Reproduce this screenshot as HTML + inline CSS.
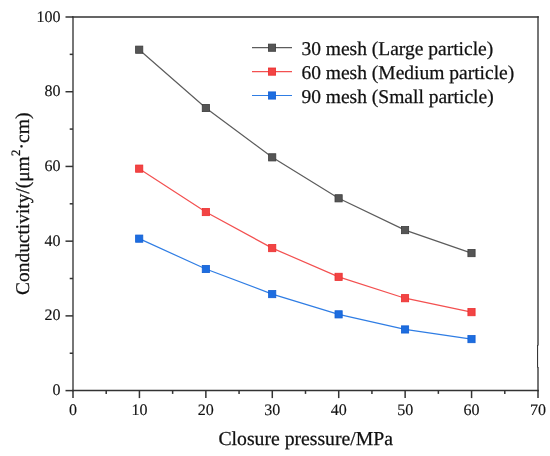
<!DOCTYPE html>
<html><head><meta charset="utf-8"><style>
html,body{margin:0;padding:0;background:#fff;}
svg{display:block;}
text{text-rendering:geometricPrecision;font-family:"Liberation Serif", serif;fill:#111;stroke:#111;stroke-width:0.25px;}
.tl{font-size:16px;stroke-width:0.15px;}
.lg{font-size:19.5px;}
.at{font-size:19.7px;}
</style></head><body>
<svg width="550" height="456" viewBox="0 0 550 456">
<defs><filter id="gs" x="0" y="0" width="550" height="456" filterUnits="userSpaceOnUse"><feColorMatrix type="saturate" values="0"/></filter></defs>
<rect width="550" height="456" fill="#fff"/>
<path d="M538.0 345.5 V16.25 M73.0 16.25 V391.35 M538.0 391.35 V367" fill="none" stroke="#4a4a4a" stroke-width="1.5"/>
<path d="M72.25 17.0 H538.75 M72.25 390.6 H538.75" fill="none" stroke="#333333" stroke-width="1.5"/>
<line x1="537.6" y1="345" x2="537.6" y2="367.5" stroke="#222" stroke-width="1"/>
<line x1="65.50" y1="390.60" x2="73.00" y2="390.60" stroke="#333333" stroke-width="1.5"/>
<line x1="69.70" y1="353.24" x2="73.00" y2="353.24" stroke="#333333" stroke-width="1.5"/>
<line x1="65.50" y1="315.88" x2="73.00" y2="315.88" stroke="#333333" stroke-width="1.5"/>
<line x1="69.70" y1="278.52" x2="73.00" y2="278.52" stroke="#333333" stroke-width="1.5"/>
<line x1="65.50" y1="241.16" x2="73.00" y2="241.16" stroke="#333333" stroke-width="1.5"/>
<line x1="69.70" y1="203.80" x2="73.00" y2="203.80" stroke="#333333" stroke-width="1.5"/>
<line x1="65.50" y1="166.44" x2="73.00" y2="166.44" stroke="#333333" stroke-width="1.5"/>
<line x1="69.70" y1="129.08" x2="73.00" y2="129.08" stroke="#333333" stroke-width="1.5"/>
<line x1="65.50" y1="91.72" x2="73.00" y2="91.72" stroke="#333333" stroke-width="1.5"/>
<line x1="69.70" y1="54.36" x2="73.00" y2="54.36" stroke="#333333" stroke-width="1.5"/>
<line x1="65.50" y1="17.00" x2="73.00" y2="17.00" stroke="#333333" stroke-width="1.5"/>
<line x1="73.00" y1="390.60" x2="73.00" y2="398.10" stroke="#333333" stroke-width="1.5"/>
<line x1="106.21" y1="390.60" x2="106.21" y2="393.90" stroke="#333333" stroke-width="1.5"/>
<line x1="139.43" y1="390.60" x2="139.43" y2="398.10" stroke="#333333" stroke-width="1.5"/>
<line x1="172.64" y1="390.60" x2="172.64" y2="393.90" stroke="#333333" stroke-width="1.5"/>
<line x1="205.86" y1="390.60" x2="205.86" y2="398.10" stroke="#333333" stroke-width="1.5"/>
<line x1="239.07" y1="390.60" x2="239.07" y2="393.90" stroke="#333333" stroke-width="1.5"/>
<line x1="272.29" y1="390.60" x2="272.29" y2="398.10" stroke="#333333" stroke-width="1.5"/>
<line x1="305.50" y1="390.60" x2="305.50" y2="393.90" stroke="#333333" stroke-width="1.5"/>
<line x1="338.71" y1="390.60" x2="338.71" y2="398.10" stroke="#333333" stroke-width="1.5"/>
<line x1="371.93" y1="390.60" x2="371.93" y2="393.90" stroke="#333333" stroke-width="1.5"/>
<line x1="405.14" y1="390.60" x2="405.14" y2="398.10" stroke="#333333" stroke-width="1.5"/>
<line x1="438.36" y1="390.60" x2="438.36" y2="393.90" stroke="#333333" stroke-width="1.5"/>
<line x1="471.57" y1="390.60" x2="471.57" y2="398.10" stroke="#333333" stroke-width="1.5"/>
<line x1="504.79" y1="390.60" x2="504.79" y2="393.90" stroke="#333333" stroke-width="1.5"/>
<line x1="538.00" y1="390.60" x2="538.00" y2="398.10" stroke="#333333" stroke-width="1.5"/>
<polyline points="139.20,49.70 205.85,108.00 272.20,157.35 338.60,198.30 405.05,230.10 471.50,253.10" fill="none" stroke="#5c5c5c" stroke-width="1.2"/>
<polyline points="139.20,168.65 205.85,212.05 272.20,248.10 338.60,276.85 405.05,298.20 471.50,312.15" fill="none" stroke="#F35050" stroke-width="1.2"/>
<polyline points="139.20,238.65 205.85,269.00 272.20,294.10 338.60,314.35 405.05,329.45 471.50,339.10" fill="none" stroke="#2F7DE4" stroke-width="1.2"/>
<rect x="135.60" y="46.10" width="7.2" height="7.2" fill="#555555" stroke="#3c3c3c" stroke-width="0.8"/>
<rect x="202.25" y="104.40" width="7.2" height="7.2" fill="#555555" stroke="#3c3c3c" stroke-width="0.8"/>
<rect x="268.60" y="153.75" width="7.2" height="7.2" fill="#555555" stroke="#3c3c3c" stroke-width="0.8"/>
<rect x="335.00" y="194.70" width="7.2" height="7.2" fill="#555555" stroke="#3c3c3c" stroke-width="0.8"/>
<rect x="401.45" y="226.50" width="7.2" height="7.2" fill="#555555" stroke="#3c3c3c" stroke-width="0.8"/>
<rect x="467.90" y="249.50" width="7.2" height="7.2" fill="#555555" stroke="#3c3c3c" stroke-width="0.8"/>
<rect x="135.60" y="165.05" width="7.2" height="7.2" fill="#F24444" stroke="#EC2E2E" stroke-width="0.8"/>
<rect x="202.25" y="208.45" width="7.2" height="7.2" fill="#F24444" stroke="#EC2E2E" stroke-width="0.8"/>
<rect x="268.60" y="244.50" width="7.2" height="7.2" fill="#F24444" stroke="#EC2E2E" stroke-width="0.8"/>
<rect x="335.00" y="273.25" width="7.2" height="7.2" fill="#F24444" stroke="#EC2E2E" stroke-width="0.8"/>
<rect x="401.45" y="294.60" width="7.2" height="7.2" fill="#F24444" stroke="#EC2E2E" stroke-width="0.8"/>
<rect x="467.90" y="308.55" width="7.2" height="7.2" fill="#F24444" stroke="#EC2E2E" stroke-width="0.8"/>
<rect x="135.60" y="235.05" width="7.2" height="7.2" fill="#1D6DE0" stroke="#135FD3" stroke-width="0.8"/>
<rect x="202.25" y="265.40" width="7.2" height="7.2" fill="#1D6DE0" stroke="#135FD3" stroke-width="0.8"/>
<rect x="268.60" y="290.50" width="7.2" height="7.2" fill="#1D6DE0" stroke="#135FD3" stroke-width="0.8"/>
<rect x="335.00" y="310.75" width="7.2" height="7.2" fill="#1D6DE0" stroke="#135FD3" stroke-width="0.8"/>
<rect x="401.45" y="325.85" width="7.2" height="7.2" fill="#1D6DE0" stroke="#135FD3" stroke-width="0.8"/>
<rect x="467.90" y="335.50" width="7.2" height="7.2" fill="#1D6DE0" stroke="#135FD3" stroke-width="0.8"/>
<line x1="252" y1="47.7" x2="292" y2="47.7" stroke="#5c5c5c" stroke-width="1.2"/>
<rect x="268.40" y="44.10" width="7.2" height="7.2" fill="#555555" stroke="#3c3c3c" stroke-width="0.8"/>
<line x1="252" y1="71.6" x2="292" y2="71.6" stroke="#F35050" stroke-width="1.2"/>
<rect x="268.40" y="68.00" width="7.2" height="7.2" fill="#F24444" stroke="#EC2E2E" stroke-width="0.8"/>
<line x1="252" y1="95.5" x2="292" y2="95.5" stroke="#2F7DE4" stroke-width="1.2"/>
<rect x="268.40" y="91.90" width="7.2" height="7.2" fill="#1D6DE0" stroke="#135FD3" stroke-width="0.8"/>
<g filter="url(#gs)">
<text x="60.5" y="395.10" text-anchor="end" class="tl">0</text>
<text x="60.5" y="320.38" text-anchor="end" class="tl">20</text>
<text x="60.5" y="245.66" text-anchor="end" class="tl">40</text>
<text x="60.5" y="170.94" text-anchor="end" class="tl">60</text>
<text x="60.5" y="96.22" text-anchor="end" class="tl">80</text>
<text x="60.5" y="21.50" text-anchor="end" class="tl">100</text>
<text x="73.00" y="415.2" text-anchor="middle" class="tl">0</text>
<text x="139.43" y="415.2" text-anchor="middle" class="tl">10</text>
<text x="205.86" y="415.2" text-anchor="middle" class="tl">20</text>
<text x="272.29" y="415.2" text-anchor="middle" class="tl">30</text>
<text x="338.71" y="415.2" text-anchor="middle" class="tl">40</text>
<text x="405.14" y="415.2" text-anchor="middle" class="tl">50</text>
<text x="471.57" y="415.2" text-anchor="middle" class="tl">60</text>
<text x="538.00" y="415.2" text-anchor="middle" class="tl">70</text>
<text x="301.4" y="54.7" class="lg">30 mesh (Large particle)</text>
<text x="301.4" y="78.6" class="lg">60 mesh (Medium particle)</text>
<text x="301.4" y="102.5" class="lg">90 mesh (Small particle)</text>
<text x="305.7" y="445.4" text-anchor="middle" class="at">Closure pressure/MPa</text>
<g transform="translate(28.6,0) rotate(-90)"><text x="-294.9" y="0" class="at" style="font-size:19.4px">Conductivity/(μm</text><text x="-156.0" y="-9.0" style="font-size:12.8px">2</text><text x="-149.6" y="0" class="at"><tspan dy="-1">·</tspan><tspan dy="1">cm)</tspan></text></g>
</g>
</svg>
</body></html>
